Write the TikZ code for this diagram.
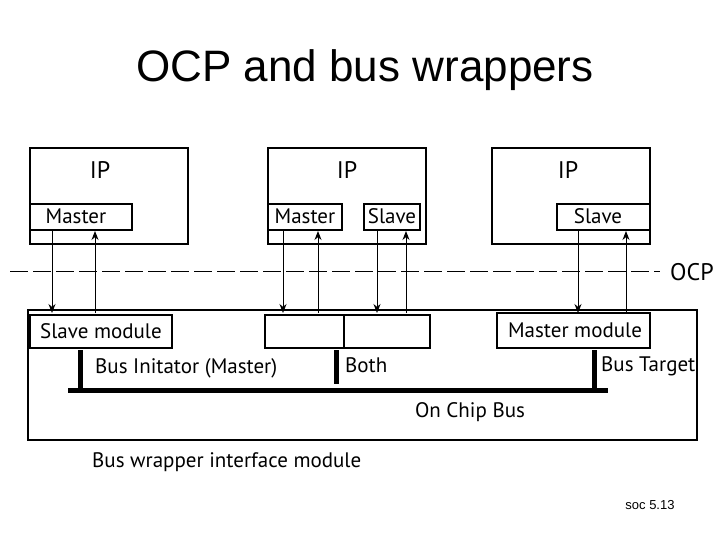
\documentclass[tikz,border=0pt]{standalone}
\usepackage{fontspec}
\setmainfont{Liberation Sans}
\newfontfamily\lab{PT Sans}
\usetikzlibrary{arrows.meta}
\begin{document}
\begin{tikzpicture}[x=1pt,y=-1pt,
  box/.style={draw,line width=1.6pt},
  lbl/.style={font=\lab\fontsize{21}{24}\selectfont,inner sep=0pt},
  big/.style={font=\lab\fontsize{24}{28}\selectfont,inner sep=0pt},
  arr/.style={-{Stealth[length=9pt,width=7pt]},line width=1pt},
  bar/.style={line width=5pt}]
\useasboundingbox (0,0) rectangle (720,540);
\node (title) at (365,70) {\fontsize{44}{50}\selectfont OCP and bus wrappers};
% IP blocks
\draw[box] (30,148) rectangle (188,244);
\node[big] (ip1) at (100,170) {IP};
\draw[box] (30,204) rectangle (132,230);
\node[lbl] (m1) at (76,216) {Master};
\draw[box] (268,148) rectangle (426,244);
\node[big] (ip2) at (347,170) {IP};
\draw[box] (268,204) rectangle (342,230);
\node[lbl] (m2) at (305,216) {Master};
\draw[box] (364,204) rectangle (420,230);
\node[lbl] (s2) at (392,216) {Slave};
\draw[box] (492,148) rectangle (650,244);
\node[big] (ip3) at (568,170) {IP};
\draw[box] (557,204) rectangle (650,230);
\node[lbl] (s3) at (598,216) {Slave};
% OCP dashed
\coordinate (d1) at (10,271); \coordinate (d2) at (660,271);
\draw[line width=1pt,dash pattern=on 18pt off 5pt] (d1) -- (d2);
\node[big] (ocp) at (692,272) {OCP};
% wrapper
\draw[box] (28,310) rectangle (697,440);
\draw[box] (30,315) rectangle (172,348);
\node[lbl] (sm) at (101,331) {Slave module};
\draw[box] (265,315) rectangle (344,348);
\draw[box] (344,315) rectangle (430,348);
\draw[box] (497,313) rectangle (650,348);
\node[lbl] (mm) at (575,330) {Master module};
% bus
\coordinate (b1) at (68,390); \coordinate (b2) at (608,390);
\draw[bar] (b1) -- (b2);
\draw[bar] (80,350) -- (80,392);
\draw[bar] (336,350) -- (336,384);
\draw[bar] (594,350) -- (594,392);
\node[lbl,anchor=west] (bi) at (95,368) {Bus Initator (Master)};
\node[lbl,anchor=west] (both) at (345,365) {Both};
\node[lbl,anchor=west] (bt) at (601,366) {Bus Target};
\node[lbl] (ocb) at (470,412) {On Chip Bus};
\node[lbl,anchor=west] (bw) at (92,462) {Bus wrapper interface module};
\node[font=\fontsize{13}{15}\selectfont] (soc) at (650,505) {soc 5.13};
% arrows
\draw[arr] (52,231) -- (52,313);
\draw[arr] (95,313) -- (95,231);
\draw[arr] (283,231) -- (283,313);
\draw[arr] (318,313) -- (318,231);
\draw[arr] (377,231) -- (377,313);
\draw[arr] (406,313) -- (406,231);
\draw[arr] (578,231) -- (578,313);
\draw[arr] (626,313) -- (626,231);
\end{tikzpicture}
\end{document}
